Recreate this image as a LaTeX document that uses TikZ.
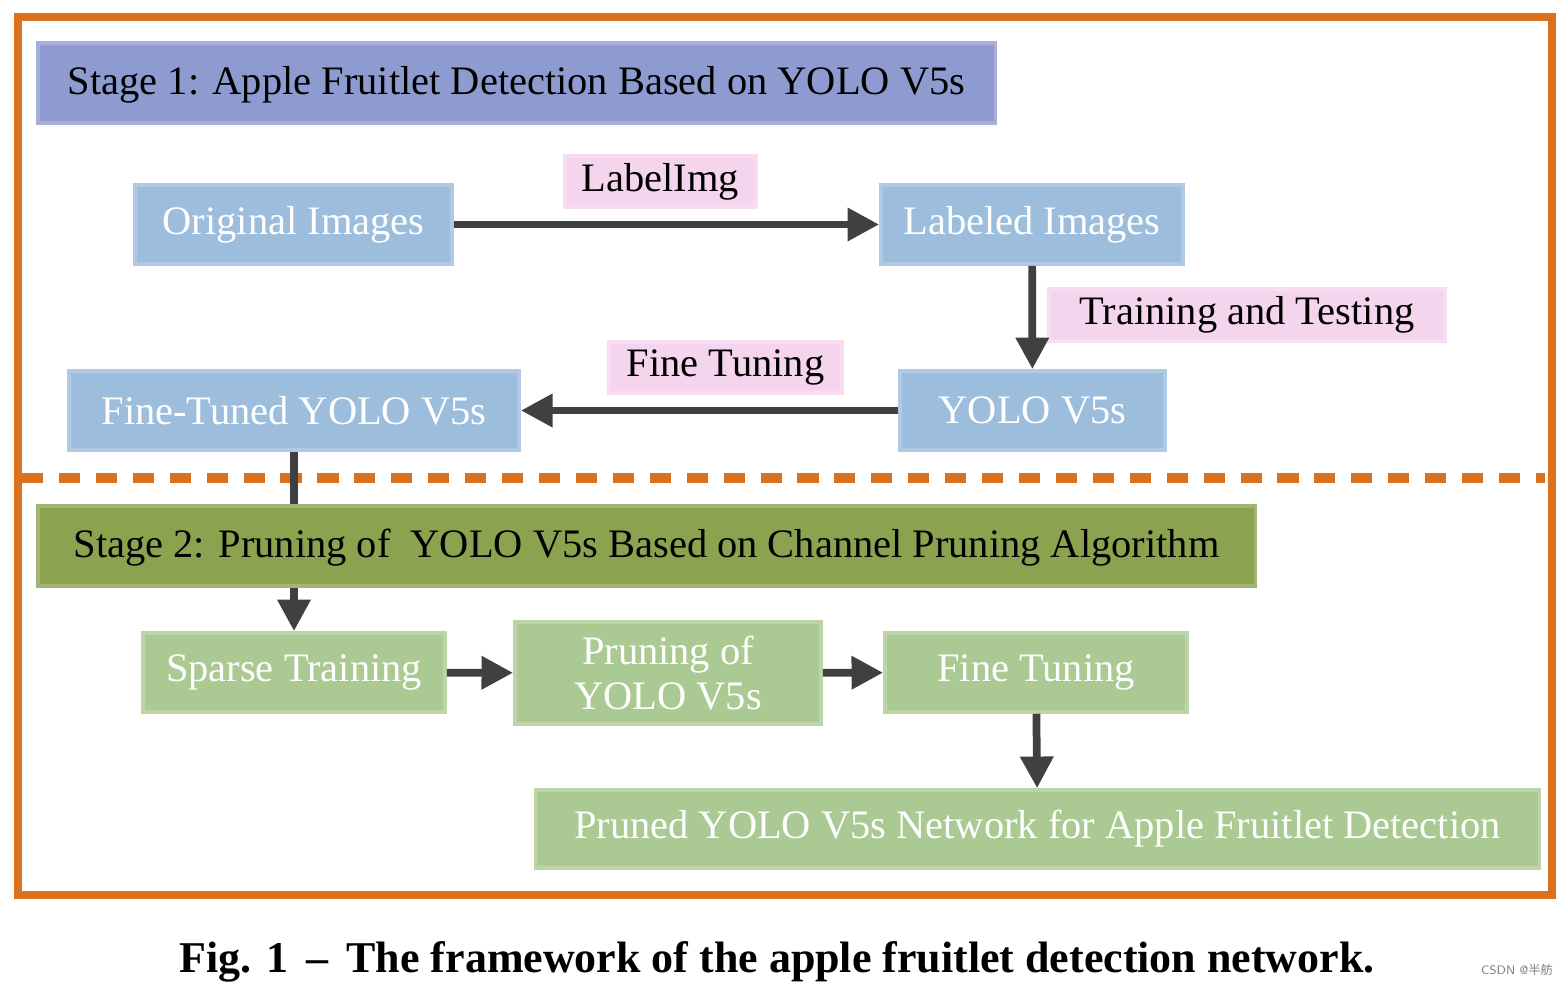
\documentclass[tikz,border=0pt]{standalone}
\usepackage{fontspec}
\setmainfont{Liberation Serif}
\newfontfamily\cjk{Noto Sans CJK SC}
\usetikzlibrary{arrows.meta}
\definecolor{frameorange}{HTML}{D9711F}
\definecolor{stageblue}{HTML}{8E9BD0}
\definecolor{boxblue}{HTML}{9DBDDD}
\definecolor{tagpink}{HTML}{F5D5EE}
\definecolor{stagegreen}{HTML}{8BA24F}
\definecolor{boxgreen}{HTML}{ABC992}
\definecolor{arrowgray}{HTML}{404040}
\begin{document}
\begin{tikzpicture}[x=0.01cm,y=-0.01cm]
  \tikzset{box/.style={draw=#1!80!white, line width=1pt, inner sep=0pt, font=\fontsize{11.5}{13}\selectfont}}
  \tikzset{stage/.style={box=#1, fill=#1, anchor=north west, minimum height=0.8cm, align=left, text depth=0.3ex}}
  \tikzset{flow/.style={draw=arrowgray, line width=2.2pt, -{Triangle[length=9pt,width=9pt]}}}
  \useasboundingbox (0,0) rectangle (1566,986);
  \draw[frameorange, line width=2.2pt] (18,17) rectangle (1552,895);

  % stage 1
  \node[stage=stageblue, minimum width=9.57cm] (st1) at (36,41) {\hspace{0.18cm}Stage 1: Apple Fruitlet Detection Based on YOLO V5s\hspace{0.18cm}};
  \node[box=boxblue, fill=boxblue, text=white, minimum width=3.17cm, minimum height=0.79cm] (orig) at (293.5,224.5) {Original Images};
  \node[box=boxblue, fill=boxblue, text=white, minimum width=3.02cm, minimum height=0.79cm] (lab) at (1032,224.5) {Labeled Images};
  \node[box=boxblue, fill=boxblue, text=white, minimum width=2.65cm, minimum height=0.79cm] (yolo) at (1032.5,410.5) {YOLO V5s};
  \node[box=boxblue, fill=boxblue, text=white, minimum width=4.5cm, minimum height=0.79cm] (ftyolo) at (294,410.5) {Fine-Tuned YOLO V5s};
  \node[box=tagpink, fill=tagpink, minimum width=1.91cm, minimum height=0.51cm] (tlab) at (660.5,181.5) {LabelImg};
  \node[box=tagpink, fill=tagpink, minimum width=3.96cm, minimum height=0.52cm] (ttrain) at (1247,315) {Training and Testing};
  \node[box=tagpink, fill=tagpink, minimum width=2.33cm, minimum height=0.51cm] (ttune) at (725.5,367.5) {Fine Tuning};

  \draw[frameorange, line width=3pt, dash pattern=on 6pt off 4.5pt] (22,478) -- (1545,478);

  % stage 2
  \node[box=boxgreen, fill=boxgreen, text=white, minimum width=3.02cm, minimum height=0.79cm] (sparse) at (294,672.5) {Sparse Training};
  \node[box=boxgreen, fill=boxgreen, text=white, minimum width=3.06cm, minimum height=1.02cm, align=center] (prune) at (668,673) {Pruning of\\YOLO V5s};
  \node[box=boxgreen, fill=boxgreen, text=white, minimum width=3.02cm, minimum height=0.79cm] (ftune) at (1036,672.5) {Fine Tuning};
  \node[box=boxgreen, fill=boxgreen, text=white, minimum width=10.03cm, minimum height=0.78cm] (final) at (1037.5,829) {Pruned YOLO V5s Network for Apple Fruitlet Detection};

  \draw[flow] (orig) -- (lab);
  \draw[flow] (lab) -- (yolo);
  \draw[flow] (yolo) -- (ftyolo);
  \draw[flow] (ftyolo) -- (sparse);
  \draw[flow] (sparse) -- (prune);
  \draw[flow] (prune) -- (ftune);
  \draw[flow] (ftune) -- (final);

  \node[stage=stagegreen, minimum width=12.17cm] (st2) at (36,504) {\hspace{0.18cm}Stage 2: Pruning of\ \ YOLO V5s Based on Channel Pruning Algorithm\hspace{0.18cm}};

  \node[font=\bfseries\fontsize{12.5}{14}\selectfont] (cap) at (777,962) {Fig. 1 \,--\, The framework of the apple fruitlet detection network.};
  \node[font=\sffamily\fontsize{3.5}{4}\selectfont, text=gray] (mark) at (1517,970) {CSDN @{\cjk 半舫}};
\end{tikzpicture}
\end{document}
